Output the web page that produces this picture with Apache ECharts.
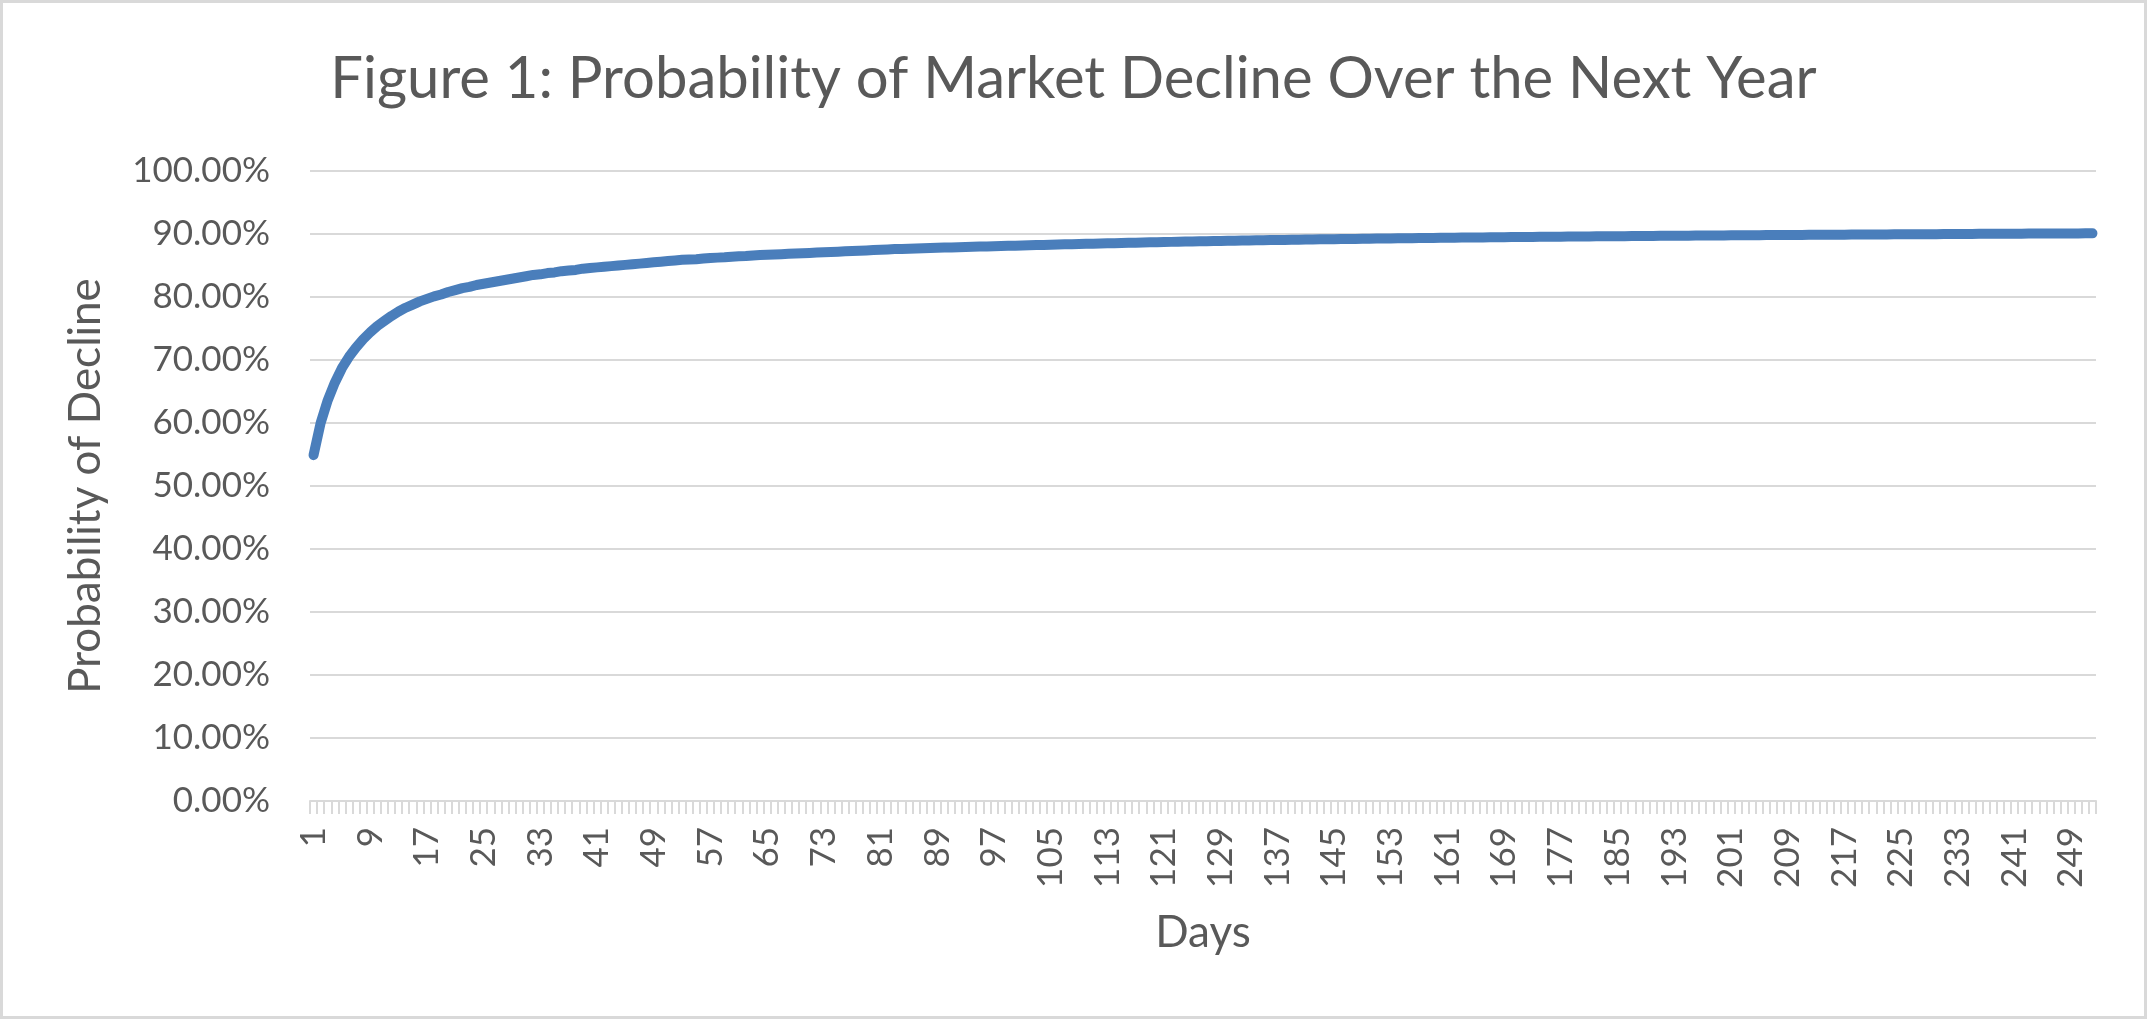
<!DOCTYPE html>
<html>
<head>
<meta charset="utf-8">
<script src="https://cdn.jsdelivr.net/npm/echarts@6/dist/echarts.min.js"></script>
<style>
html,body{margin:0;padding:0;background:#fff;}
#chart{width:2147px;height:1019px;}
</style>
</head>
<body>
<div id="chart"></div>
<script>
// Probability of decline (%), by trading day
var probDays1to50 = [
  54.9, 60.0, 63.6, 66.4, 68.7, 70.5, 72.0, 73.3, 74.4, 75.4,
  76.2, 77.0, 77.7, 78.3, 78.8, 79.3, 79.7, 80.1, 80.4, 80.8,
  81.1, 81.4, 81.6, 81.9, 82.1, 82.3, 82.5, 82.7, 82.9, 83.1,
  83.3, 83.5, 83.6, 83.8, 83.9, 84.1, 84.2, 84.3, 84.5, 84.6,
  84.7, 84.8, 84.9, 85.0, 85.1, 85.2, 85.3, 85.4, 85.5, 85.6
];
var probDays51to100 = [
  85.7, 85.8, 85.9, 85.95, 86.0, 86.1, 86.2, 86.25, 86.3, 86.4,
  86.45, 86.5, 86.6, 86.65, 86.7, 86.75, 86.8, 86.85, 86.9, 86.95,
  87.0, 87.05, 87.1, 87.15, 87.2, 87.25, 87.3, 87.35, 87.4, 87.45,
  87.5, 87.55, 87.6, 87.62, 87.66, 87.7, 87.73, 87.77, 87.8, 87.84,
  87.87, 87.9, 87.93, 87.96, 88.0, 88.03, 88.06, 88.09, 88.12, 88.15
];
var probDays101to150 = [
  88.18, 88.21, 88.24, 88.27, 88.30, 88.33, 88.36, 88.39, 88.42, 88.45,
  88.47, 88.50, 88.53, 88.55, 88.58, 88.60, 88.63, 88.65, 88.68, 88.70,
  88.72, 88.75, 88.77, 88.79, 88.81, 88.83, 88.85, 88.87, 88.89, 88.91,
  88.93, 88.95, 88.97, 88.99, 89.01, 89.03, 89.04, 89.06, 89.08, 89.10,
  89.11, 89.13, 89.15, 89.16, 89.18, 89.19, 89.21, 89.22, 89.24, 89.25
];
var probDays151to200 = [
  89.27, 89.28, 89.30, 89.31, 89.32, 89.34, 89.35, 89.36, 89.38, 89.39,
  89.40, 89.41, 89.43, 89.44, 89.45, 89.46, 89.47, 89.48, 89.50, 89.51,
  89.52, 89.53, 89.54, 89.55, 89.56, 89.57, 89.58, 89.59, 89.60, 89.61,
  89.62, 89.63, 89.64, 89.65, 89.66, 89.66, 89.67, 89.68, 89.69, 89.70,
  89.71, 89.72, 89.73, 89.73, 89.74, 89.75, 89.76, 89.77, 89.77, 89.78
];
var probDays201to252 = [
  89.79, 89.80, 89.80, 89.81, 89.82, 89.83, 89.83, 89.84, 89.85, 89.86,
  89.86, 89.87, 89.88, 89.88, 89.89, 89.90, 89.90, 89.91, 89.92, 89.92,
  89.93, 89.94, 89.94, 89.95, 89.95, 89.96, 89.97, 89.97, 89.98, 89.98,
  89.99, 90.00, 90.00, 90.01, 90.01, 90.02, 90.02, 90.03, 90.04, 90.04,
  90.05, 90.05, 90.06, 90.06, 90.07, 90.07, 90.08, 90.08, 90.09, 90.09,
  90.10, 90.10
];
var probValues = [].concat(probDays1to50, probDays51to100, probDays101to150, probDays151to200, probDays201to252);
// Day labels 1..N (category axis)
var dayLabels = probValues.map(function (_, i) { return String(i + 1); });

var titleText = 'Figure 1: Probability of Market Decline Over the Next Year';
var xAxisTitle = 'Days';
var yAxisTitle = 'Probability of Decline';

var textColor = '#595959';
var gridColor = '#d9d9d9';
var font = 'Lato';

var chart = echarts.init(document.getElementById('chart'), null, { renderer: 'canvas' });
chart.setOption({
  backgroundColor: '#ffffff',
  animation: false,
  title: {
    text: titleText,
    left: 'center',
    top: 45,
    textStyle: { color: textColor, fontFamily: font, fontSize: 58, fontWeight: 'normal' }
  },
  graphic: [{
    type: 'rect',
    shape: { x: 1.5, y: 1.5, width: 2144, height: 1016 },
    style: { fill: 'none', stroke: gridColor, lineWidth: 3 },
    silent: true
  }],
  grid: { left: 310, right: 51, top: 171, bottom: 218, containLabel: false },
  xAxis: {
    type: 'category',
    data: dayLabels,
    boundaryGap: true,
    name: xAxisTitle,
    nameLocation: 'middle',
    nameGap: 110,
    nameTextStyle: { color: textColor, fontFamily: font, fontSize: 44 },
    axisLine: { show: true, lineStyle: { color: gridColor, width: 2 } },
    axisTick: { show: true, interval: 0, length: 13, lineStyle: { color: gridColor, width: 2 } },
    axisLabel: {
      interval: 7,
      rotate: 90,
      margin: 26,
      color: textColor,
      fontFamily: font,
      fontSize: 35
    },
    splitLine: { show: false }
  },
  yAxis: {
    type: 'value',
    min: 0,
    max: 100,
    interval: 10,
    name: yAxisTitle,
    nameLocation: 'middle',
    nameGap: 202,
    nameTextStyle: { color: textColor, fontFamily: font, fontSize: 44 },
    axisLine: { show: false },
    axisTick: { show: false },
    axisLabel: {
      margin: 40,
      color: textColor,
      fontFamily: font,
      fontSize: 35,
      formatter: function (v) { return v.toFixed(2) + '%'; }
    },
    splitLine: { show: true, lineStyle: { color: gridColor, width: 2 } }
  },
  series: [{
    type: 'line',
    data: probValues,
    showSymbol: false,
    smooth: false,
    lineStyle: { color: '#4a7ebb', width: 10, cap: 'round', join: 'round' },
    itemStyle: { color: '#4a7ebb' }
  }]
});
</script>
</body>
</html>
